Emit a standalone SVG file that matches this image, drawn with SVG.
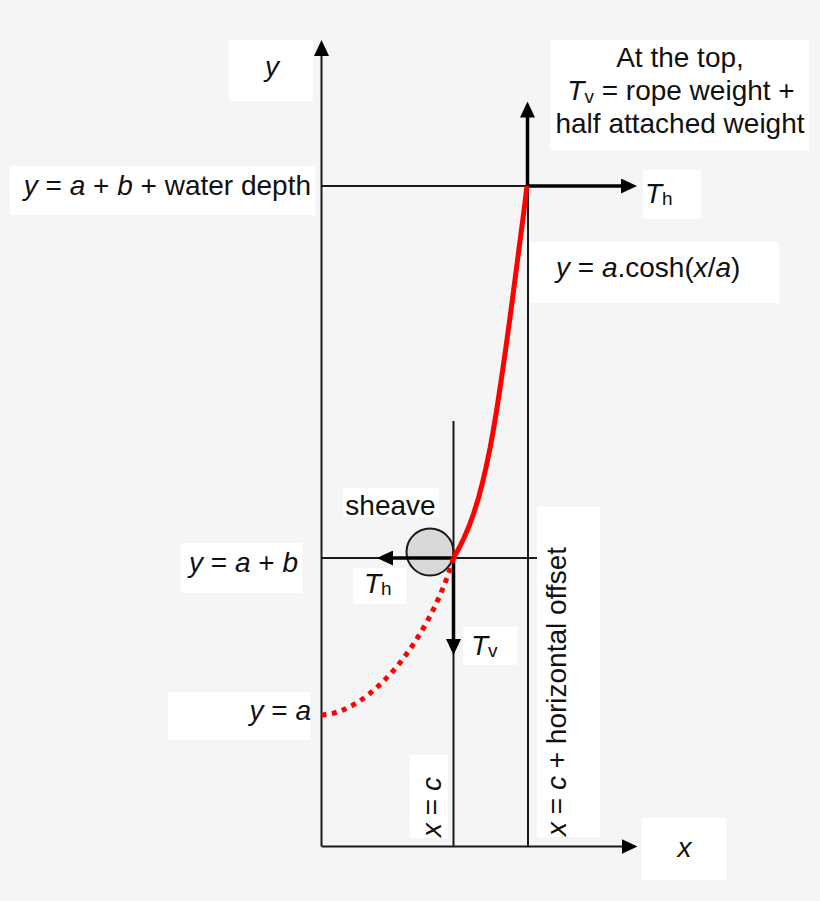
<svg xmlns="http://www.w3.org/2000/svg" width="820" height="901" viewBox="0 0 820 901">
<style>
text{font-family:"Liberation Sans",Arial,sans-serif;font-size:28px;fill:#111}
.i{font-style:italic}
.sub{font-size:19px}
.box{fill:#ffffff}
.thin{stroke:#1a1a1a;stroke-width:2;fill:none}
.thick{stroke:#000;stroke-width:3.5;fill:none}
.rope{stroke:#ff0000;stroke-width:5;fill:none;stroke-linejoin:round}
.rope-dot{stroke:#ff0000;stroke-width:5;fill:none;stroke-dasharray:5 5.5}
</style>
<defs>
<marker id="ah" viewBox="0 0 16 15" refX="4" refY="7.5" markerWidth="16" markerHeight="15" markerUnits="userSpaceOnUse" orient="auto">
<path d="M0,0 L16,7.5 L0,15 z" fill="#000"/>
</marker>
</defs>
<rect width="820" height="901" fill="#f5f5f5"/>

<g id="label-y"><rect class="box" x="229" y="40" width="84" height="61"/><text class="i" x="272" y="76" text-anchor="middle">y</text></g>
<g id="label-top-level"><rect class="box" x="10" y="166" width="305" height="49"/><text x="311" y="195" text-anchor="end"><tspan class="i">y</tspan> = <tspan class="i">a</tspan> + <tspan class="i">b</tspan> + water depth</text></g>
<g id="label-at-top"><rect class="box" x="550" y="40" width="259" height="110"/>
<text x="680" y="67" text-anchor="middle">At the top,</text>
<text x="681" y="100" text-anchor="middle"><tspan class="i">T</tspan><tspan class="sub" dy="3">v</tspan><tspan dy="-3"> = rope weight +</tspan></text>
<text x="680" y="133" text-anchor="middle">half attached weight</text></g>
<g id="label-th-top"><rect class="box" x="643" y="170" width="58" height="49"/><text x="645" y="203"><tspan class="i">T</tspan><tspan class="sub" dy="2">h</tspan></text></g>
<g id="label-cosh"><rect class="box" x="530" y="242" width="249" height="61"/><text x="556" y="277"><tspan class="i">y</tspan> = <tspan class="i">a</tspan>.cosh(<tspan class="i">x</tspan>/<tspan class="i">a</tspan>)</text></g>
<g id="label-sheave"><rect class="box" x="343" y="488" width="96" height="29"/><text x="390.5" y="515" text-anchor="middle">sheave</text></g>
<g id="label-ab"><rect class="box" x="181" y="543" width="121" height="50"/><text x="298" y="572" text-anchor="end"><tspan class="i">y</tspan> = <tspan class="i">a</tspan> + <tspan class="i">b</tspan></text></g>
<g id="label-th-low"><rect class="box" x="353" y="568" width="53" height="36"/><text x="364" y="593"><tspan class="i">T</tspan><tspan class="sub" dy="2">h</tspan></text></g>
<g id="label-tv"><rect class="box" x="463" y="627" width="54" height="38"/><text x="471" y="655"><tspan class="i">T</tspan><tspan class="sub" dy="2">v</tspan></text></g>
<g id="label-ya"><rect class="box" x="168" y="692" width="142" height="48"/><text x="311" y="720" text-anchor="end"><tspan class="i">y</tspan> = <tspan class="i">a</tspan></text></g>
<g id="label-xc"><rect class="box" x="410" y="755" width="38" height="83"/><text transform="translate(441,837) rotate(-90)"><tspan class="i">x</tspan> = <tspan class="i">c</tspan></text></g>
<g id="label-xoff"><rect class="box" x="537" y="507" width="63" height="330"/><text transform="translate(566,836) rotate(-90)"><tspan class="i">x</tspan> = <tspan class="i">c</tspan> + horizontal offset</text></g>
<g id="label-x"><rect class="box" x="642" y="818" width="84" height="62"/><text class="i" x="684.5" y="857" text-anchor="middle">x</text></g>

<g id="sheave"><circle cx="430" cy="552" r="23.5" fill="#d9d9d9" stroke="#1a1a1a" stroke-width="2"/></g>

<g id="connectors">
<line class="thin" x1="321.5" y1="846.5" x2="321.5" y2="52" marker-end="url(#ah)"/>
<line class="thin" x1="321.5" y1="846.5" x2="625.5" y2="846.5" marker-end="url(#ah)"/>
<line class="thin" x1="321.5" y1="186" x2="528" y2="186"/>
<line class="thin" x1="528" y1="186" x2="528" y2="846.5"/>
<line class="thin" x1="453.5" y1="421" x2="453.5" y2="846.5"/>
<line class="thin" x1="321.5" y1="558" x2="537" y2="558"/>
<line class="thick" x1="527.5" y1="186" x2="527.5" y2="113.5" marker-end="url(#ah)"/>
<line class="thick" x1="527.5" y1="186" x2="625" y2="186" marker-end="url(#ah)"/>
<line class="thick" x1="453.5" y1="558" x2="389" y2="558" marker-end="url(#ah)"/>
<line class="thick" x1="453.5" y1="558" x2="453.5" y2="643" marker-end="url(#ah)"/>
</g>

<g id="rope">
<path class="rope-dot" d="M321.5,715 C370,713 429,641 453.5,558"/>
<path class="rope" d="M453.5,558 L459.1,548 L464,538 L469.1,526 L473.8,513 L478.5,498 L482.4,483 L485.9,468 L490.1,448 L493.7,428 L497,408 L500.8,383 L504.4,358 L508.6,328 L512.6,298 L516.5,268 L520.4,238 L523.8,212 L527,186"/>
</g>
</svg>
